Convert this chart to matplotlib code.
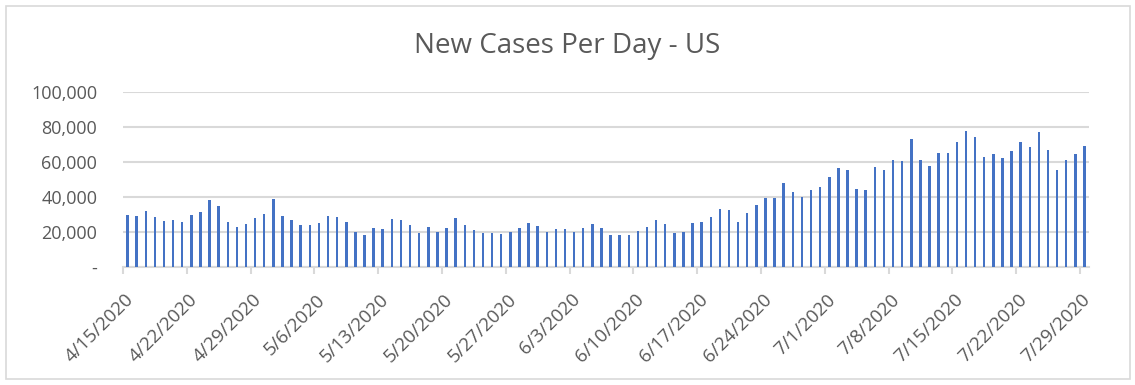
import matplotlib
matplotlib.use("Agg")
import matplotlib.pyplot as plt
import matplotlib.transforms as mtransforms
from matplotlib.patches import Rectangle
from matplotlib.ticker import FuncFormatter
import numpy as np
import datetime as dt

# ---- data ----
start_date = dt.date(2020, 4, 15)
new_cases = [
    30000, 29200, 32000, 28600, 26300, 26900, 25700, 29700, 31400, 38300,
    34900, 25700, 22900, 24600, 28000, 30300, 38900, 29100, 26900, 24000,
    24000, 25100, 29100, 28600, 25700, 20000, 18300, 22300, 21700, 27400,
    26900, 24000, 19400, 22900, 20000, 22300, 28000, 24000, 21100, 19400,
    19400, 18900, 20000, 22300, 25100, 23400, 20000, 21700, 21700, 20000,
    22300, 24600, 22300, 18300, 18300, 18300, 20600, 22900, 26900, 24600,
    19400, 20000, 25100, 25700, 28600, 33100, 32600, 25700, 30900, 35400,
    39400, 39400, 48000, 42900, 40000, 44000, 45700, 51400, 56600, 55400,
    44600, 44000, 57100, 55400, 61100, 60600, 73100, 61100, 57700, 65100,
    65100, 71400, 77700, 74300, 62900, 64600, 62300, 66300, 71400, 68600,
    77100, 66900, 55400, 61100, 64600, 69100,
]
dates = [start_date + dt.timedelta(days=i) for i in range(len(new_cases))]
tick_index = list(range(0, len(new_cases), 7))
tick_labels = [f"{dates[i].month}/{dates[i].day}/{dates[i].year}" for i in tick_index]
y_ticks = [0, 20000, 40000, 60000, 80000, 100000]
title = "New Cases Per Day - US"

# ---- style ----
FONT = ["Open Sans", "DejaVu Sans"]
TEXT = "#595959"
GRID = "#D9D9D9"
BAR = "#4472C4"

W, H = 1135, 385
fig = plt.figure(figsize=(W / 100, H / 100), dpi=100)
fig.patch.set_facecolor("white")
fig.patches.append(Rectangle((6 / W, 6 / H), (1130 - 6) / W, (379 - 6) / H,
                             transform=fig.transFigure, fill=False,
                             edgecolor="#D9D9D9", linewidth=1.2))

left, right, top, bottom = 123, 1089, 92, 267
ax = fig.add_axes([left / W, (H - bottom) / H, (right - left) / W, (bottom - top) / H])

x = np.arange(len(new_cases))
ax.bar(x, new_cases, width=0.27, color=BAR, zorder=3)

ax.set_xlim(-0.5, len(new_cases) - 0.5)
ax.set_ylim(0, 100000)
ax.set_yticks(y_ticks)
ax.yaxis.set_major_formatter(FuncFormatter(lambda v, p: "-" if v == 0 else f"{int(v):,}"))
ax.grid(axis="y", color=GRID, linewidth=1.5, zorder=0)
ax.set_axisbelow(True)

for s in ["top", "right", "left"]:
    ax.spines[s].set_visible(False)
ax.spines["bottom"].set_color(GRID)
ax.spines["bottom"].set_linewidth(1.5)

ax.tick_params(axis="y", length=0, pad=18.5, labelsize=13, labelcolor=TEXT)
for lab in ax.get_yticklabels():
    lab.set_fontfamily(FONT)

ax.set_xticks([i - 0.5 for i in tick_index])
ax.set_xticklabels(tick_labels, rotation=45, ha="right", va="top",
                   rotation_mode="anchor", fontsize=13.5, color=TEXT, family=FONT)
ax.tick_params(axis="x", length=5, width=1.5, color=GRID, pad=4)
offset = mtransforms.ScaledTranslation(1 / 72, -8 / 72, fig.dpi_scale_trans)
for lab in ax.get_xticklabels():
    lab.set_transform(lab.get_transform() + offset)

fig.text(0.5, (H - 53) / H, title, ha="center", va="baseline",
         fontsize=20, color=TEXT, family=FONT)

fig.savefig("out.png", dpi=100)
